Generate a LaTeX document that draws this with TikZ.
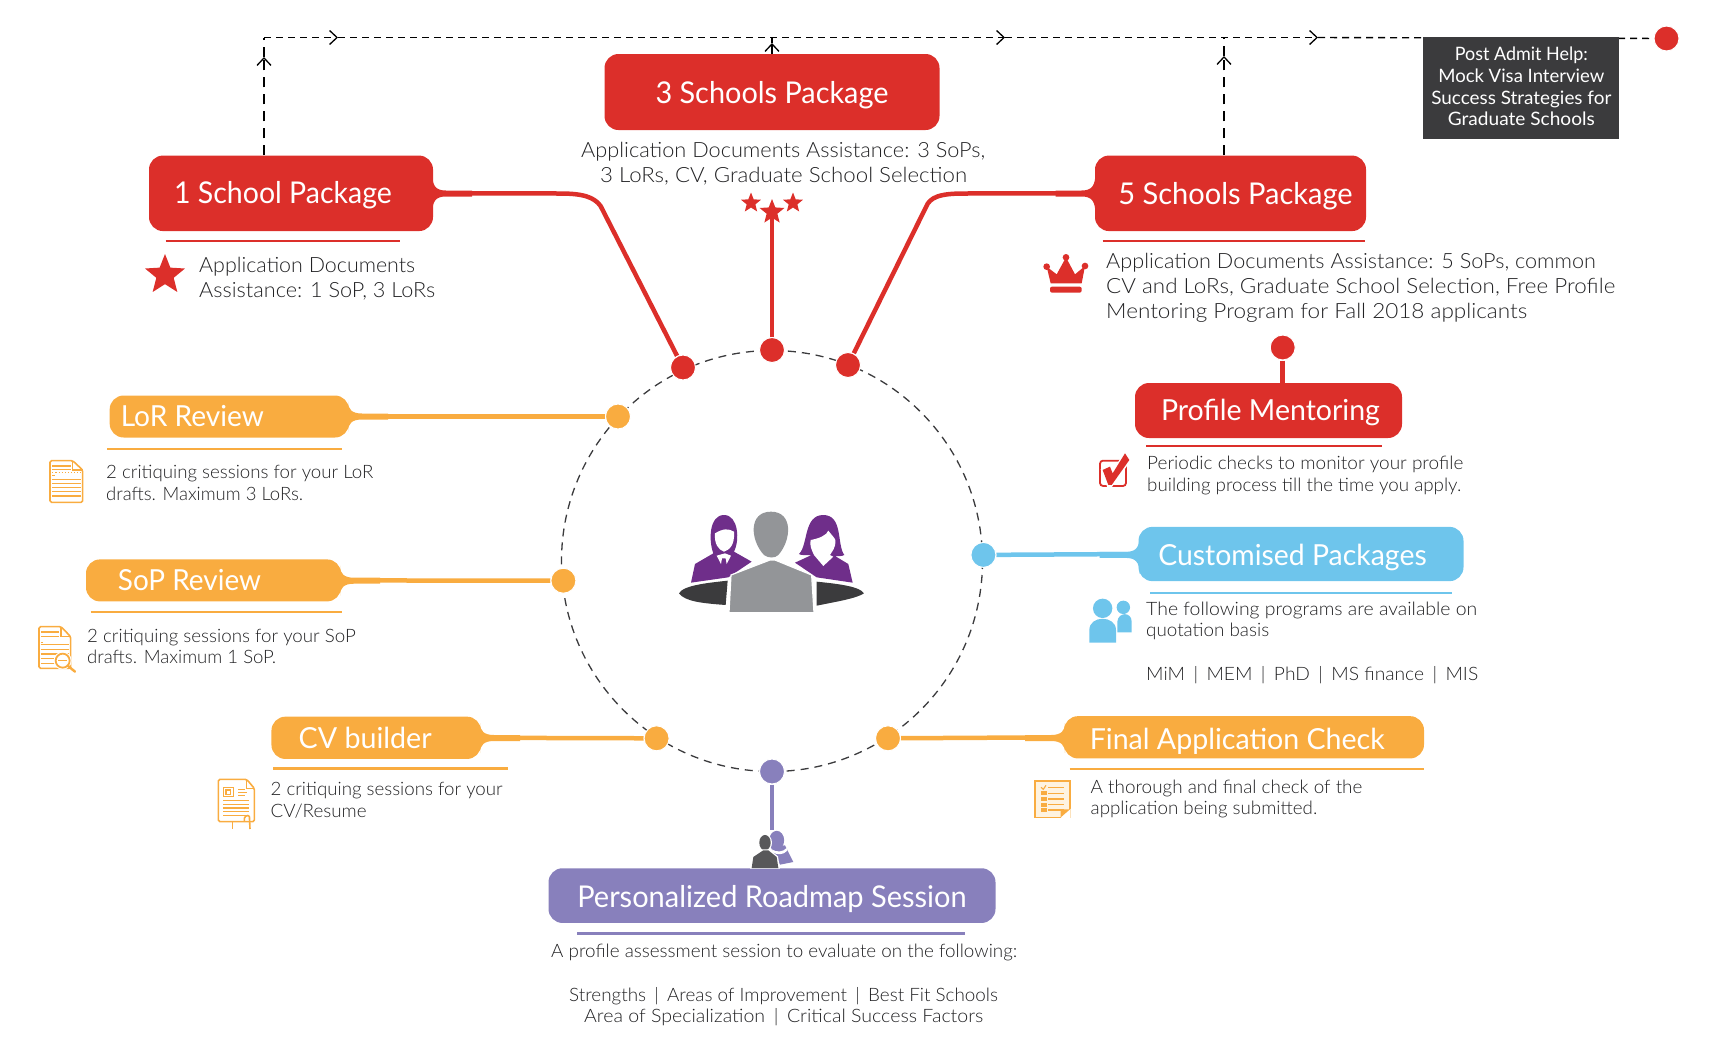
\documentclass[tikz,border=0pt]{standalone}
\usepackage{fontspec}
\usepackage{graphicx}
\setmainfont{Lato Light}
\newfontfamily\titlefont{Lato}
\usetikzlibrary{arrows.meta,shapes.geometric}
\definecolor{cred}{HTML}{DC2F2A}
\definecolor{corange}{HTML}{F9AC40}
\definecolor{cblue}{HTML}{6EC5EC}
\definecolor{cpurple}{HTML}{8880BC}
\definecolor{cdark}{HTML}{3B3B3D}
\definecolor{cfig}{HTML}{6F2E8A}
\definecolor{cgray}{HTML}{939598}
\definecolor{ctext}{HTML}{222224}
\definecolor{cpale}{HTML}{FEF3E0}
\pgfdeclarelayer{bg}
\pgfsetlayers{bg,main}
\newcommand\fit[2]{\resizebox{#1pt}{\height}{#2}}
\newcommand\para[2]{\vtop{\baselineskip=#1pt\relax #2}}
\newcommand\lyne[2]{\hbox{\fit{#1}{#2}}}
\newcommand\lyneat[3]{\hbox{\hspace*{#1pt}\fit{#2}{#3}}}
\newcommand\clyne[2]{\hbox to 196pt{\hss\fit{#1}{#2}\hss}}
\newcommand\boxlabel[3]{\hspace*{#2pt}\fit{#1}{#3}\hspace*{-#2pt}}
\newcommand\neckR[4]{\fill[#1] (#2,#3-#4) .. controls (#2,#3-7) and (#2+4,#3-3) .. (#2+14,#3-3) -- (#2+40,#3-3) -- (#2+40,#3+3) -- (#2+14,#3+3) .. controls (#2+4,#3+3) and (#2,#3+7) .. (#2,#3+#4) -- cycle;}
\newcommand\neckL[4]{\fill[#1] (#2,#3-#4) .. controls (#2,#3-7) and (#2-4,#3-3) .. (#2-14,#3-3) -- (#2-40,#3-3) -- (#2-40,#3+3) -- (#2-14,#3+3) .. controls (#2-4,#3+3) and (#2,#3+7) .. (#2,#3+#4) -- cycle;}
\tikzset{
  pkg/.style={inner sep=0pt,rounded corners=14pt,text=white,text height=24pt,text depth=4pt,font=\titlefont\fontsize{30}{36}\selectfont,align=center},
  pkgs/.style={pkg,font=\titlefont\fontsize{29}{34}\selectfont},
  txt/.style={inner sep=0pt,anchor=base west,text=ctext,font=\fontsize{21}{25}\selectfont},
  small/.style={txt,font=\fontsize{18.5}{22}\selectfont},
  dot/.style={circle,inner sep=0pt,minimum size=25pt,draw=white,line width=1pt},
  conn/.style={line width=4.5pt},
  topdash/.style={black,line width=1.4pt,dash pattern=on 7pt off 5pt},
  vdash/.style={black,line width=1.4pt,dash pattern=on 10pt off 7pt},
  barb/.style={-{Straight Barb[length=7.5pt,width=14pt,line width=1.3pt]}},
  rule/.style={line width=2.2pt},
  ico/.style={corange,line width=1.1pt},
  icob/.style={corange,line width=1.6pt,line join=round,rounded corners=1.5pt},
}
\begin{document}
\begin{tikzpicture}[x=1pt,y=-1pt]
\useasboundingbox (0,0) rectangle (1715,1050);
% ring
\node[circle,inner sep=0pt,minimum size=421pt] (ring) at (772,561) {};
\begin{pgfonlayer}{bg}
\draw[cdark,line width=1.3pt,dash pattern=on 8pt off 6pt] (772,561) circle[radius=210.5];
\end{pgfonlayer}
% package boxes
\node[pkg,fill=cred,minimum width=335pt,minimum height=76pt,text height=25pt,text depth=3pt] (threeS) at (772,92) {\boxlabel{233}{0}{3 Schools Package}};
\node[pkg,fill=cred,minimum width=284pt,minimum height=75.5pt] (oneS) at (291,193.3) {\boxlabel{217.7}{-8}{1 School Package}};
\node[pkg,fill=cred,minimum width=271pt,minimum height=75.5pt,text height=25pt,text depth=3pt] (fiveS) at (1230.5,193.3) {\boxlabel{234.4}{5}{5 Schools Package}};
\node[pkgs,fill=cred,minimum width=267pt,minimum height=55pt] (prof) at (1268.5,410.5) {\boxlabel{219}{2}{Profile Mentoring}};
\node[pkgs,fill=corange,minimum width=239.3pt,minimum height=42pt] (lor) at (229.3,416.5) {\boxlabel{143}{-37}{LoR Review}};
\node[pkgs,fill=corange,minimum width=255pt,minimum height=42pt] (sop) at (213.5,580.4) {\boxlabel{143}{-24}{SoP Review}};
\node[pkgs,fill=corange,minimum width=209.5pt,minimum height=42.3pt,text height=24.5pt,text depth=3.5pt] (cv) at (376.2,737.8) {\boxlabel{133}{-11}{CV builder}};
\node[pkgs,fill=corange,minimum width=360pt,minimum height=42.3pt,text height=26pt,text depth=2pt] (final) at (1244,737.3) {\boxlabel{295}{-6.7}{Final Application Check}};
\node[pkgs,fill=cblue,minimum width=325pt,minimum height=54.3pt,text height=25pt,text depth=3pt] (cust) at (1301,554) {\boxlabel{268.4}{-8.5}{Customised Packages}};
\node[pkg,fill=cpurple,minimum width=447pt,minimum height=54.7pt,text height=26pt,text depth=2pt] (road) at (772,895.6) {\boxlabel{389.4}{0}{Personalized Roadmap Session}};
% post admit
\node[fill=cdark,text=white,inner sep=0pt,minimum width=195.5pt,minimum height=101.6pt,font=\titlefont\fontsize{18.5}{22}\selectfont] (post) at (1521.3,87.8) {\para{21.7}{\clyne{133}{Post Admit Help:}\clyne{166}{Mock Visa Interview}\clyne{180}{Success Strategies for}\clyne{147}{Graduate Schools}\kern2.4pt}};
% dots
\node[dot,fill=cred] (d1) at (683,367.5) {};
\node[dot,fill=cred] (d3s) at (772,350) {};
\node[dot,fill=cred] (d5) at (848,365) {};
\node[dot,fill=cred] (dpost) at (1666.5,38.5) {};
\node[dot,fill=cred] (dprof) at (1282.7,347.5) {};
\node[dot,fill=corange] (dlor) at (618,416.5) {};
\node[dot,fill=corange] (dsop) at (563.4,580.7) {};
\node[dot,fill=corange] (dcv) at (656.6,738.3) {};
\node[dot,fill=corange] (dfin) at (888,738.3) {};
\node[dot,fill=cblue] (dcust) at (983.4,554.9) {};
\node[dot,fill=cpurple] (droad) at (772,771.5) {};
% stars
\node[star,star points=5,star point ratio=2.3,fill=cred,inner sep=0pt,minimum size=42pt] (st1) at (165,275) {};
\node[star,star points=5,star point ratio=2.3,fill=cred,inner sep=0pt,minimum size=26pt] (st3) at (772,212) {};
\node[star,star points=5,star point ratio=2.3,fill=cred,inner sep=0pt,minimum size=21pt] (st3a) at (751,203) {};
\node[star,star points=5,star point ratio=2.3,fill=cred,inner sep=0pt,minimum size=21pt] (st3b) at (793,203) {};
% coordinates for connectors
\coordinate (c1) at (264,37.5);
\coordinate (a1) at (338,37.5);
\coordinate (a2) at (1005,37.5);
\coordinate (a3) at (1318,37.5);
\coordinate (c3) at (772,37.5);
\coordinate (t3) at (772,43);
\coordinate (c5) at (1224,37.5);
\coordinate (t5) at (1224,56);
\coordinate (t1) at (264,57);
\coordinate (o1) at (560,193.5);
\coordinate (o2) at (600.6,206);
\coordinate (f1) at (964,193.5);
\coordinate (f2) at (926,207);
\coordinate (roadtop) at (772,830);
\begin{pgfonlayer}{bg}
\draw[topdash,barb] (c1) -- (a1);
\draw[topdash,barb] (a1) -- (a2);
\draw[topdash,barb] (a2) -- (a3);
\draw[topdash] (a3) -- (dpost);
\draw[vdash,barb] (oneS.north -| c1) -- (t1);
\draw[vdash] (t1) -- (c1);
\draw[vdash,barb] (threeS.north) -- (t3);
\draw[vdash] (t3) -- (c3);
\draw[vdash,barb] (fiveS.north -| c5) -- (t5);
\draw[vdash] (t5) -- (c5);
\draw[conn,cred,line join=round] (oneS.east) -- (o1) .. controls (583,193.5) and (594,197) .. (o2) -- (d1);
\draw[conn,cred,line join=round] (fiveS.west) -- (f1) .. controls (940,193.5) and (930,197) .. (f2) -- (d5);
\draw[conn,cred] (st3) -- (d3s);
\draw[conn,cred] (dprof) -- (dprof |- prof.north);
\draw[conn,corange] (lor.east) -- (dlor);
\draw[conn,corange] (sop.east) -- (dsop);
\draw[conn,corange] (cv.east) -- (dcv);
\draw[conn,corange] (final.west) -- (dfin);
\draw[conn,cblue] (cust.west) -- (dcust);
\draw[conn,cpurple] (droad) -- (roadtop);
\end{pgfonlayer}
% necks
\neckR{cred}{432}{193.5}{22}
\neckL{cred}{1095.5}{193.5}{22}
\neckR{corange}{348}{416.5}{15}
\neckR{corange}{340}{580.7}{15}
\neckR{corange}{480}{738}{15}
\neckL{corange}{1065}{738}{15}
\neckL{cblue}{1139.5}{554.9}{19}
% rules
\draw[rule,cred] (165.7,240.7) -- (400,240.7);
\draw[rule,cred] (1102.5,240.7) -- (1364.5,240.7);
\draw[rule,cred] (1146,445.6) -- (1382,445.6);
\draw[rule,corange] (107,449) -- (342,449);
\draw[rule,corange] (90.5,612) -- (342,612);
\draw[rule,corange] (273,768.5) -- (508,768.5);
\draw[rule,corange] (1069.5,769) -- (1424,769);
\draw[rule,cblue] (1150,593) -- (1451.5,593);
\draw[rule,cpurple] (577,933.5) -- (965,933.5);
% texts
\node[txt] (x1) at (199,272) {\para{25.5}{\lyne{216}{Application Documents}\lyne{236}{Assistance: 1 SoP, 3 LoRs}}};
\node[txt] (x3) at (581,157) {\para{25}{\lyne{404}{Application Documents Assistance: 3 SoPs,}\lyneat{19}{367}{3 LoRs, CV, Graduate School Selection}}};
\node[txt] (x5) at (1106,268.8) {\para{25}{\lyne{489.7}{Application Documents Assistance: 5 SoPs, common}\lyne{509}{CV and LoRs, Graduate School Selection, Free Profile}\lyne{421}{Mentoring Program for Fall 2018 applicants}}};
\node[small] (xp) at (1147,469) {\para{22}{\lyne{316}{Periodic checks to monitor your profile}\lyne{314}{building process till the time you apply.}}};
\node[small] (xl) at (106,478) {\para{22}{\lyne{267}{2 critiquing sessions for your LoR}\lyne{197}{drafts. Maximum 3 LoRs.}}};
\node[small] (xs) at (87,642) {\para{21.7}{\lyne{268.5}{2 critiquing sessions for your SoP}\lyne{189}{drafts. Maximum 1 SoP.}}};
\node[small] (xc) at (270.4,795.5) {\para{21.5}{\lyne{232}{2 critiquing sessions for your}\lyne{96}{CV/Resume}}};
\node[small] (xf) at (1090.5,793.2) {\para{21.6}{\lyne{271.6}{A thorough and final check of the}\lyne{226.6}{application being submitted.}}};
\node[small] (xu) at (1146,615) {\para{21.5}{\lyne{331}{The following programs are available on}\lyne{123}{quotation basis}}};
\node[small] (xm) at (1146,680) {\fit{332}{MiM\, | \,MEM\, | \,PhD\, | \,MS finance\, | \,MIS}};
\node[small] (xr) at (551,957.5) {\fit{466}{A profile assessment session to evaluate on the following:}};
\node[small] (xr2) at (569,1001) {\para{21.5}{\lyne{428.7}{Strengths\, | \,Areas of Improvement\, | \,Best Fit Schools}\lyneat{15}{399}{Area of Specialization\, | \,Critical Success Factors}}};
% crown
\begin{scope}[shift={(1030,240)},x=.3333pt,y=-.3333pt]
\fill[cred] (50,80) -- (80,103) -- (108,52) -- (135,103) -- (165,78) -- (155,130) -- (62,130) -- cycle;
\fill[cred] (50,80) circle[radius=10pt/3*1] (108,52) circle[radius=10pt/3*1] (165,78) circle[radius=10pt/3*1];
\fill[cred,rounded corners=2pt] (60,140) rectangle (155,158);
% check
\draw[cred,line width=1.8pt,rounded corners=3pt] (210,662) rectangle (288,738);
\fill[white] (212,688) -- (240,675) -- (250,690) -- (285,632) -- (304,660) -- (245,742) -- (232,742) -- cycle;
\fill[cred] (218,690) -- (240,680) -- (248,700) -- (285,640) -- (298,660) -- (245,735) -- (235,735) -- cycle;
\end{scope}
% central figure
\begin{scope}[shift={(660,490)},x=.3333pt,y=-.3333pt]
\fill[cdark] (57,310) .. controls (70,285) and (150,278) .. (203,272) -- (197,345) .. controls (130,340) and (75,335) .. (57,310) -- cycle;
\fill[cdark] (470,275) .. controls (540,282) and (600,290) .. (612,310) .. controls (590,325) and (530,335) .. (470,347) -- cycle;
\fill[cfig] (93,278) -- (105,222) -- (160,190) .. controls (145,150) and (148,75) .. (192,75) .. controls (235,75) and (240,150) .. (222,185) -- (275,215) -- (205,262) -- cycle;
\fill[white] (165,130) .. controls (190,115) and (205,115) .. (222,125) .. controls (225,170) and (205,180) .. (192,185) .. controls (175,180) and (162,160) .. (165,130) -- cycle;
\fill[white] (170,197) -- (183,222) -- (186,205) -- (197,205) -- (200,222) -- (213,197) -- (195,190) -- cycle;
\fill[cfig] (405,218) -- (455,195) .. controls (435,195) and (425,197) .. (417,192) .. controls (445,165) and (430,75) .. (490,75) .. controls (550,75) and (530,165) .. (553,195) .. controls (545,200) and (530,198) .. (525,198) -- (565,222) -- (578,278) -- (470,262) -- cycle;
\fill[white] (452,150) .. controls (480,145) and (500,135) .. (505,122) .. controls (515,135) and (525,145) .. (526,150) .. controls (528,175) and (515,185) .. (510,195) -- (520,200) -- (490,228) -- (462,195) .. controls (455,180) and (448,165) .. (452,150) -- cycle;
\fill[cgray,draw=white,line width=1.2pt] (207,368) -- (213,255) -- (330,210) -- (345,210) -- (455,255) -- (462,368) -- cycle;
\fill[cgray] (333,65) .. controls (400,65) and (395,150) .. (355,195) .. controls (345,205) and (325,205) .. (312,195) .. controls (270,150) and (265,65) .. (333,65) -- cycle;
\end{scope}
% LoR and SoP icons
\begin{scope}[shift={(20,440)},x=.3333pt,y=-.3333pt]
\draw[icob] (90,62) -- (158,62) -- (188,90) -- (188,187) -- (90,187) -- cycle;
\draw[ico] (158,62) -- (158,90) -- (188,90);
\foreach \yy in {118,130,143,155,168} {\draw[ico] (96,\yy) -- (182,\yy);}
\draw[ico] (97,78) -- (152,78) (97,88) -- (152,88) (97,107) -- (105,107);
\draw[ico,dotted] (97,98) -- (182,98);
\draw[icob] (57,560) -- (123,560) -- (152,590) -- (152,685) -- (57,685) -- cycle;
\draw[ico] (123,560) -- (123,590) -- (152,590);
\foreach \yy in {614,628,642,656,670} {\draw[ico] (62,\yy) -- (146,\yy);}
\draw[ico] (63,576) -- (118,576) (63,590) -- (118,590) (63,607) -- (70,607);
\fill[white] (128,662) circle[radius=9pt];
\draw[corange,line width=1.8pt] (128,662) circle[radius=7pt];
\draw[corange,line width=2.4pt,line cap=round] (143,677) -- (165,695);
\draw[ico] (115,662) -- (141,662);
\end{scope}
% CV icon
\begin{scope}[shift={(200,760)},x=.3333pt,y=-.3333pt]
\draw[icob] (55,58) -- (140,58) -- (163,85) -- (163,185) -- (55,185) -- cycle;
\draw[ico] (140,58) -- (140,85) -- (163,85);
\draw[ico] (70,82) rectangle (100,110);
\draw[ico] (78,90) -- (92,90) -- (92,104) -- (78,104) -- cycle;
\draw[ico] (115,88) -- (135,88) (115,97) -- (142,97) (115,106) -- (135,106);
\foreach \yy in {122,133,144,155,166} {\draw[ico] (70,\yy) -- (148,\yy);}
\draw[icob] (97,185) -- (97,207);
\draw[icob] (133,185) -- (133,170) -- (148,165) -- (150,207);
\end{scope}
% final check and people icons
\begin{scope}[shift={(1020,580)},x=.3333pt,y=-.3333pt]
\draw[corange,fill=cpale,line width=1.3pt] (45,603) rectangle (150,712);
\fill[white] (122,714) -- (152,686) -- (152,714) -- cycle;
\fill[corange] (122,712) -- (122,688) -- (150,688) -- cycle;
\foreach \yy in {622,640,657,674,690} {\draw[corange,line width=1.1pt] (85,\yy) -- (133,\yy);}
\foreach \yy in {640,657,674,690} {\fill[corange] (62,\yy-6) rectangle (80,\yy+6);}
\draw[corange,line width=1.1pt] (63,622) -- (70,628) -- (78,616);
\fill[cblue] (248,85) circle[radius=9.7pt];
\fill[cblue] (208,188) -- (208,150) .. controls (208,105) and (288,105) .. (288,150) -- (288,188) -- cycle;
\fill[cblue] (310,82) circle[radius=6.7pt];
\fill[cblue] (292,157) -- (292,125) .. controls (295,95) and (335,95) .. (335,125) -- (335,157) -- cycle;
\end{scope}
% roadmap people
\begin{scope}[shift={(730,762)},x=.3333pt,y=-.3333pt]
\fill[cpurple] (140,235) ellipse[x radius=7.5pt,y radius=9.5pt];
\fill[cpurple] (122,255) -- (165,250) -- (190,300) -- (150,308) -- cycle;
\fill[white] (125,262) .. controls (140,272) and (160,270) .. (170,258) -- (172,266) .. controls (160,280) and (140,278) .. (130,272) -- cycle;
\fill[white] (105,242) ellipse[x radius=7pt,y radius=8.7pt];
\fill[cdark!85] (105,242) ellipse[x radius=5.7pt,y radius=7.7pt];
\fill[white] (60,320) -- (66,283) -- (98,262) -- (117,262) -- (144,283) -- (150,320) -- cycle;
\fill[cdark!85] (65,318) -- (70,285) -- (100,265) -- (115,265) -- (140,285) -- (145,318) -- cycle;
\end{scope}
\end{tikzpicture}
\end{document}
